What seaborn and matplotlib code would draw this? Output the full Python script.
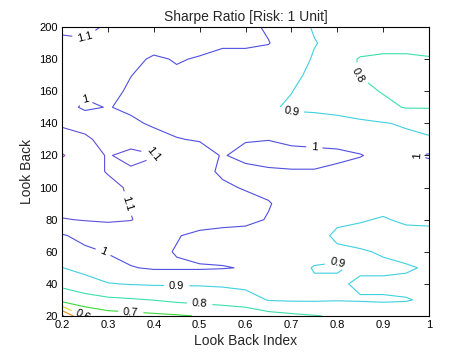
import numpy as np
import matplotlib
matplotlib.use("Agg")
import matplotlib.pyplot as plt
import seaborn as sns

# grid
look_back_index = [0.20, 0.25, 0.30, 0.35, 0.40, 0.45, 0.50, 0.55, 0.60,
                   0.65, 0.70, 0.75, 0.80, 0.85, 0.90, 0.95, 1.00]
look_back = [200, 190, 180, 170, 160, 150, 140, 130, 120, 110,
             100, 90, 80, 70, 60, 50, 40, 30, 20]

sharpe = [
    [1.12, 1.12, 1.09, 1.05, 1.04, 1.03, 1.03, 1.02, 1.02, 0.99, 0.95, 0.89, 0.86, 0.84, 0.83, 0.83, 0.82],
    [1.08, 1.09, 1.05, 1.04, 1.03, 1.02, 1.02, 1.01, 1.01, 1.003, 0.96, 0.905, 0.87, 0.83, 0.82, 0.82, 0.81],
    [1.05, 1.05, 1.04, 1.02, 0.99, 1.005, 0.995, 0.98, 0.98, 0.97, 0.95, 0.89, 0.83, 0.795, 0.79, 0.79, 0.798],
    [1.05, 1.04, 1.03, 1.002, 0.97, 0.99, 0.97, 0.96, 0.95, 0.94, 0.92, 0.88, 0.82, 0.798, 0.77, 0.76, 0.77],
    [1.05, 1.02, 1.03, 0.985, 0.97, 0.96, 0.96, 0.95, 0.95, 0.91, 0.902, 0.87, 0.85, 0.82, 0.795, 0.77, 0.76],
    [1.05, 0.98, 1.005, 0.98, 0.97, 0.96, 0.95, 0.94, 0.93, 0.91, 0.89, 0.89, 0.88, 0.87, 0.82, 0.795, 0.795],
    [1.09, 1.08, 1.06, 1.02, 0.985, 0.98, 0.98, 0.98, 0.975, 0.97, 0.93, 0.92, 0.92, 0.91, 0.905, 0.89, 0.87],
    [1.13, 1.11, 1.08, 1.07, 1.04, 1.003, 0.995, 0.98, 0.995, 0.998, 0.98, 0.97, 0.97, 0.95, 0.93, 0.92, 0.91],
    [1.21, 1.13, 1.095, 1.12, 1.105, 1.04, 1.03, 0.995, 1.02, 1.03, 1.03, 1.03, 1.02, 1.005, 0.97, 0.99, 1.01],
    [1.14, 1.13, 1.095, 1.09, 1.07, 1.04, 1.02, 0.99, 0.98, 0.99, 0.995, 0.995, 0.98, 0.96, 0.95, 0.95, 0.96],
    [1.15, 1.13, 1.12, 1.09, 1.07, 1.04, 1.02, 1.01, 0.995, 0.98, 0.97, 0.96, 0.96, 0.95, 0.94, 0.94, 0.95],
    [1.14, 1.15, 1.13, 1.095, 1.07, 1.05, 1.04, 1.03, 1.02, 1.005, 0.97, 0.95, 0.94, 0.93, 0.92, 0.93, 0.93],
    [1.095, 1.105, 1.11, 1.103, 1.07, 1.05, 1.04, 1.03, 1.02, 0.995, 0.96, 0.93, 0.91, 0.905, 0.895, 0.91, 0.91],
    [0.99, 1.03, 1.05, 1.05, 1.04, 1.005, 0.98, 0.97, 0.97, 0.96, 0.94, 0.92, 0.89, 0.88, 0.88, 0.88, 0.885],
    [0.95, 0.98, 1.005, 1.03, 1.02, 0.995, 0.97, 0.97, 0.97, 0.96, 0.95, 0.93, 0.91, 0.905, 0.895, 0.885, 0.885],
    [0.898, 0.93, 0.97, 0.995, 1.01, 1.01, 1.01, 1.005, 0.995, 0.96, 0.93, 0.895, 0.895, 0.91, 0.91, 0.905, 0.895],
    [0.82, 0.86, 0.895, 0.905, 0.91, 0.91, 0.91, 0.915, 0.93, 0.94, 0.93, 0.91, 0.91, 0.89, 0.89, 0.89, 0.895],
    [0.74, 0.76, 0.78, 0.79, 0.802, 0.82, 0.83, 0.84, 0.85, 0.905, 0.91, 0.91, 0.905, 0.905, 0.905, 0.902, 0.895],
    [0.38, 0.62, 0.66, 0.67, 0.68, 0.69, 0.705, 0.72, 0.74, 0.76, 0.78, 0.795, 0.81, 0.85, 0.87, 0.88, 0.885],
]

levels = [0.4, 0.5, 0.6, 0.7, 0.8, 0.9, 1.0, 1.1, 1.2]
level_colors = ["#e02a1a", "#f0901e", "#d8d820", "#3cd83c", "#3ce0a8",
                "#40d0e0", "#5050e0", "#6050d8", "#a040d0"]

x_ticks = [0.2, 0.3, 0.4, 0.5, 0.6, 0.7, 0.8, 0.9, 1.0]
x_ticklabels = ["0.2", "0.3", "0.4", "0.5", "0.6", "0.7", "0.8", "0.9", "1"]
y_ticks = [20, 40, 60, 80, 100, 120, 140, 160, 180, 200]

sns.set_style("white")
plt.rcParams["font.family"] = ["Liberation Sans", "DejaVu Sans"]

fig = plt.figure(figsize=(4.74, 3.55), dpi=100)
ax = fig.add_axes([0.1308, 0.1099, 0.7743, 0.8141])

z = np.array(sharpe)[::-1]
y = np.array(look_back)[::-1]
cs = ax.contour(look_back_index, y, z, levels=levels, colors=level_colors,
                linewidths=0.8)
ax.clabel(cs, inline=True, fontsize=8, colors="k",
          fmt=lambda v: "{:g}".format(v))

ax.set_xlim(0.2, 1.0)
ax.set_ylim(20, 200)
ax.set_xticks(x_ticks)
ax.set_xticklabels(x_ticklabels)
ax.set_yticks(y_ticks)
ax.tick_params(direction="in", length=3.5, width=0.6, labelsize=8,
               top=True, right=True, pad=3, colors="k")
for s in ax.spines.values():
    s.set_linewidth(0.8)
    s.set_color("k")

ax.set_title("Sharpe Ratio [Risk: 1 Unit]", fontsize=10, pad=4)
ax.set_xlabel("Look Back Index", fontsize=10, labelpad=3)
ax.set_ylabel("Look Back", fontsize=10, labelpad=4)

fig.savefig("out.png", dpi=100, facecolor="white")
